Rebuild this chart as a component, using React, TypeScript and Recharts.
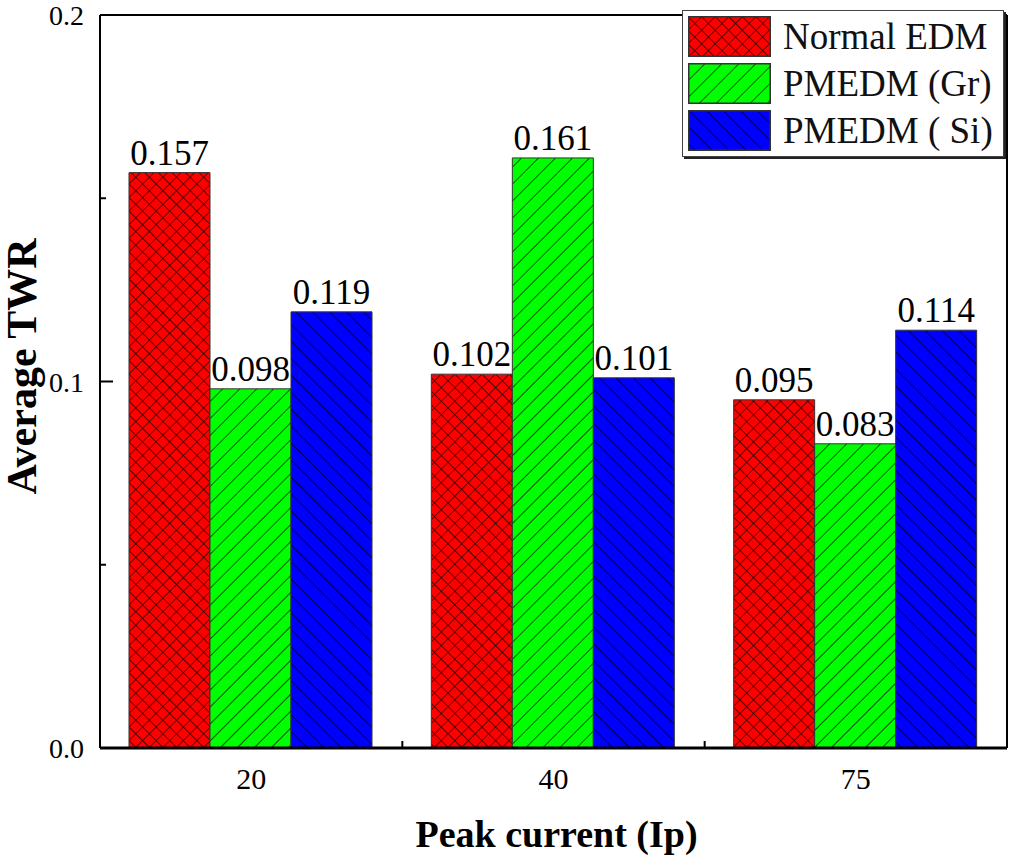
import React from "react";
import {
  BarChart,
  Bar,
  XAxis,
  YAxis,
  LabelList,
  Legend,
} from "recharts";

const categories = ["20", "40", "75"];
const normalEdm = [0.157, 0.102, 0.095];
const pmedmGr = [0.098, 0.161, 0.083];
const pmedmSi = [0.119, 0.101, 0.114];
const yTicks = [0, 0.05, 0.1, 0.15, 0.2];

const data = categories.map((c, i) => ({
  current: c,
  normal: normalEdm[i],
  gr: pmedmGr[i],
  si: pmedmSi[i],
}));

const series = [
  { key: "normal", name: "Normal EDM", fill: "url(#patCross)" },
  { key: "gr", name: "PMEDM (Gr)", fill: "url(#patGr)" },
  { key: "si", name: "PMEDM ( Si)", fill: "url(#patSi)" },
];

const FONT = "'Liberation Serif', 'Times New Roman', serif";
const txt = { fontFamily: FONT };

const isMajor = (v: number) => Math.abs(Math.round(v * 10) - v * 10) < 1e-6;

function LeftTick(props: any) {
  const { x, y, payload } = props;
  const v = payload.value as number;
  const major = isMajor(v);
  return (
    <g>
      <line x1={x} x2={x + (major ? 13 : 6)} y1={y} y2={y} stroke="#000" strokeWidth={2} />
      {major && (
        <text x={x - 16} y={y + 10} textAnchor="end" fontSize={28} style={txt} fill="#000">
          {v.toFixed(1)}
        </text>
      )}
    </g>
  );
}

function RightTick(props: any) {
  const { x, y, payload } = props;
  const major = isMajor(payload.value);
  return <line x1={x} x2={x - (major ? 14 : 6)} y1={y} y2={y} stroke="#000" strokeWidth={2} />;
}

function BottomTick(props: any) {
  const { x, y, payload, index } = props;
  const half = payload.offset ?? 151;
  return (
    <g>
      <text x={x} y={y + 41} textAnchor="middle" fontSize={30} style={txt} fill="#000">
        {payload.value}
      </text>
      {index < categories.length - 1 && (
        <line x1={x + half} x2={x + half} y1={y} y2={y - 7} stroke="#000" strokeWidth={2} />
      )}
    </g>
  );
}

function ValueLabel(props: any) {
  const { x, y, width, value } = props;
  return (
    <text x={x + width / 2} y={y - 8} textAnchor="middle" fontSize={35} style={txt} fill="#000">
      {Number(value).toFixed(3)}
    </text>
  );
}

function LegendBox() {
  return (
    <div
      style={{
        border: "1.5px solid #444",
        boxShadow: "2px 2px 0 #222",
        background: "#fff",
        padding: "5px 8px 5px 5px",
        fontFamily: FONT,
      }}
    >
      {series.map((s, i) => (
        <div
          key={s.key}
          style={{ display: "flex", alignItems: "center", height: 41, marginTop: i === 0 ? 0 : 6 }}
        >
          <svg width={83} height={41} style={{ display: "block" }}>
            <rect x={0.75} y={0.75} width={81.5} height={39.5} fill={s.fill} stroke="#333" strokeWidth={1.5} />
          </svg>
          <span style={{ marginLeft: 12, fontSize: 37, lineHeight: "41px", color: "#111", whiteSpace: "nowrap" }}>
            {s.name}
          </span>
        </div>
      ))}
    </div>
  );
}

export default function App() {
  return (
    <div style={{ position: "absolute", left: 0, top: 0, background: "#fff", fontFamily: FONT }}>
      <BarChart
        width={1017}
        height={859}
        data={data}
        margin={{ top: 14, right: 9, left: 0, bottom: 0 }}
        barCategoryGap={29}
        barGap={0}
      >
        <defs>
          <pattern id="patCross" patternUnits="userSpaceOnUse" width={9.6} height={9.6} patternTransform="rotate(45)">
            <rect width={9.6} height={9.6} fill="#ff0000" />
            <path d="M0 0 V9.6 M0 0 H9.6" stroke="#000" strokeWidth={1.3} strokeOpacity={0.85} />
          </pattern>
          <pattern id="patGr" patternUnits="userSpaceOnUse" width={12} height={12} patternTransform="rotate(45)">
            <rect width={12} height={12} fill="#00ff00" />
            <path d="M0 0 V12" stroke="#000" strokeWidth={1.5} strokeOpacity={0.85} />
          </pattern>
          <pattern id="patSi" patternUnits="userSpaceOnUse" width={12} height={12} patternTransform="rotate(-45)">
            <rect width={12} height={12} fill="#0000ff" />
            <path d="M0 0 V12" stroke="#000" strokeWidth={1.5} strokeOpacity={0.9} />
          </pattern>
        </defs>
        <XAxis
          dataKey="current"
          height={111}
          axisLine={{ stroke: "#000", strokeWidth: 3 }}
          tickLine={false}
          tickSize={0}
          tickMargin={0}
          tick={<BottomTick />}
          label={{
            content: (p: any) => {
              const vb = p.viewBox;
              return (
                <text x={vb.x + vb.width / 2 + 3} y={vb.y + 99} textAnchor="middle" fontSize={38} fontWeight="bold" style={txt} fill="#000">
                  Peak current (Ip)
                </text>
              );
            },
          }}
        />
        <XAxis
          xAxisId="top"
          dataKey="current"
          orientation="top"
          height={1}
          tick={false}
          tickLine={false}
          axisLine={{ stroke: "#000", strokeWidth: 2 }}
        />
        <YAxis
          width={100}
          domain={[0, 0.2]}
          ticks={yTicks}
          interval={0}
          axisLine={{ stroke: "#000", strokeWidth: 2 }}
          tickLine={false}
          tickSize={0}
          tickMargin={0}
          tick={<LeftTick />}
          label={{
            content: (p: any) => {
              const vb = p.viewBox;
              return (
                <text transform={`translate(36, ${vb.y + vb.height / 2 - 15}) rotate(-90)`} textAnchor="middle" fontSize={42} fontWeight="bold" style={txt} fill="#000">
                  Average TWR
                </text>
              );
            },
          }}
        />
        <YAxis
          yAxisId="right"
          orientation="right"
          width={1}
          domain={[0, 0.2]}
          ticks={yTicks}
          interval={0}
          axisLine={{ stroke: "#000", strokeWidth: 2 }}
          tickLine={false}
          tickSize={0}
          tickMargin={0}
          tick={<RightTick />}
        />
        <Legend
          layout="horizontal"
          verticalAlign="middle"
          align="center"
          wrapperStyle={{ top: 10, left: 682, width: 322 }}
          content={() => <LegendBox />}
        />
        {series.map((s) => (
          <Bar
            key={s.key}
            dataKey={s.key}
            name={s.name}
            fill={s.fill}
            stroke="#333"
            strokeWidth={1}
            isAnimationActive={false}
          >
            <LabelList dataKey={s.key} content={<ValueLabel />} />
          </Bar>
        ))}
      </BarChart>
    </div>
  );
}
